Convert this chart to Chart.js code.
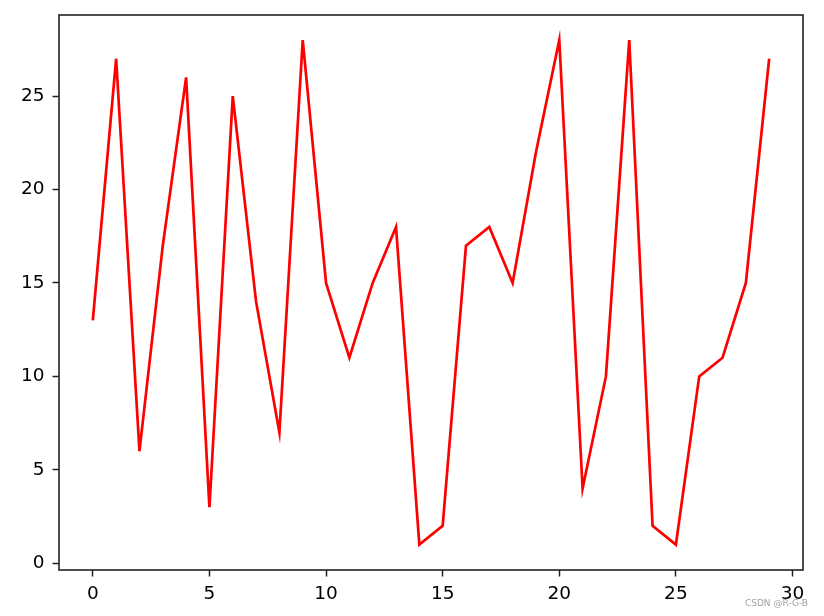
<!DOCTYPE html>
<html>
<head>
    <title>Line chart</title>
    <style>
        body { margin: 0; background: #fff; }
        canvas { display: block; }
    </style>
</head>
<body>
    <canvas id="chart" width="824" height="616"></canvas>
    <script src="https://cdn.jsdelivr.net/npm/chart.js@4/dist/chart.umd.min.js"></script>
    <script>
        // dados
        const xValues = [0, 1, 2, 3, 4, 5, 6, 7, 8, 9, 10, 11, 12, 13, 14, 15, 16, 17, 18, 19, 20, 21, 22, 23, 24, 25, 26, 27, 28, 29];
        const yValues = [13, 27, 6, 17, 26, 3, 25, 14, 7, 28, 15, 11, 15, 18, 1, 2, 17, 18, 15, 22, 28, 4, 10, 28, 2, 1, 10, 11, 15, 27];
        const xTicks = [0, 5, 10, 15, 20, 25, 30];
        const yTicks = [0, 5, 10, 15, 20, 25];
        const watermark = 'CSDN @R-G-B';

        const font = { family: 'DejaVu Sans', size: 18.5 };

        // moldura completa + marca d'água
        const framePlugin = {
            id: 'frame',
            afterDraw(chart) {
                const { ctx, chartArea: a } = chart;
                ctx.save();
                ctx.strokeStyle = '#222';
                ctx.lineWidth = 1.6;
                ctx.strokeRect(a.left, a.top, a.right - a.left, a.bottom - a.top);
                ctx.fillStyle = '#a0a0a0';
                ctx.font = '9px "DejaVu Sans"';
                ctx.textAlign = 'right';
                ctx.textBaseline = 'alphabetic';
                ctx.fillText(watermark, 808, 606);
                ctx.restore();
            }
        };

        // sem folga extra para rótulos: a área fica fixa
        function noPad(s) {
            s.paddingTop = 0;
            s.paddingBottom = 0;
            s.paddingLeft = 0;
            s.paddingRight = 0;
        }

        const ctx = document.getElementById('chart').getContext('2d');
        new Chart(ctx, {
            type: 'line',
            data: {
                datasets: [{
                    data: xValues.map((x, i) => ({ x: x, y: yValues[i] })),
                    borderColor: '#ff0000',
                    borderWidth: 2.7,
                    pointRadius: 0,
                    tension: 0,
                    fill: false
                }]
            },
            options: {
                responsive: false,
                animation: false,
                devicePixelRatio: 1,
                layout: { padding: { left: 0, right: 21, top: 15, bottom: 0 } },
                plugins: { legend: { display: false }, tooltip: { enabled: false } },
                scales: {
                    x: {
                        type: 'linear',
                        min: -1.45,
                        max: 30.45,
                        afterBuildTicks: s => { s.ticks = xTicks.map(v => ({ value: v })); },
                        afterFit: s => { s.height = 46; noPad(s); },
                        grid: { drawOnChartArea: false, tickLength: 6.5, color: '#222', tickWidth: 1.5 },
                        border: { display: false },
                        ticks: { color: '#000', font: font, padding: 7, maxRotation: 0 }
                    },
                    y: {
                        min: -0.36,
                        max: 29.34,
                        afterBuildTicks: s => { s.ticks = yTicks.map(v => ({ value: v })); },
                        afterFit: s => { s.width = 59; noPad(s); },
                        grid: { drawOnChartArea: false, tickLength: 6.5, color: '#222', tickWidth: 1.5 },
                        border: { display: false },
                        ticks: { color: '#000', font: font, padding: 8 }
                    }
                }
            },
            plugins: [framePlugin]
        });
    </script>
</body>
</html>
